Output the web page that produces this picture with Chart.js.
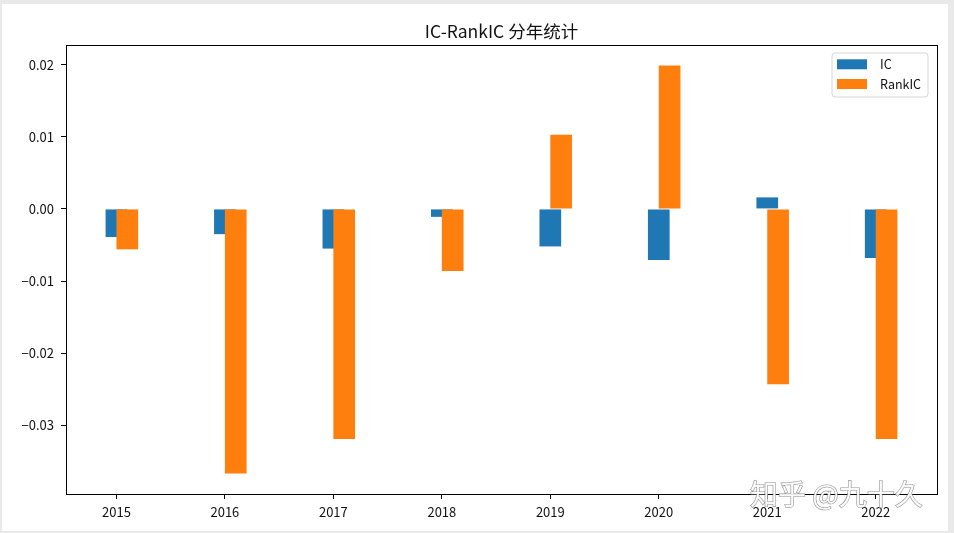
<!DOCTYPE html>
<html>
<head>
<meta charset="utf-8">
<script src="https://cdn.jsdelivr.net/npm/chart.js@4/dist/chart.umd.min.js"></script>
<style>
  html, body { margin: 0; padding: 0; background: #e9e9e9; }
  #frame { position: absolute; left: 2px; top: 4px; width: 946px; height: 527px; background: #fff; }
  #c { position: absolute; left: 0; top: 0; }
</style>
</head>
<body>
<div id="frame"></div>
<canvas id="c" width="954" height="533"></canvas>
<script>
// ---- data ----
const years = [2015, 2016, 2017, 2018, 2019, 2020, 2021, 2022];
const icValues = [-0.0039, -0.0035, -0.0055, -0.0011, -0.0052, -0.0071, 0.0016, -0.0068];
const rankIcValues = [-0.0056, -0.0367, -0.0319, -0.0086, 0.0103, 0.0199, -0.0243, -0.0319];
const yTickValues = [-0.03, -0.02, -0.01, 0.00, 0.01, 0.02];
const seriesNames = ['IC', 'RankIC'];
const titleText = 'IC-RankIC 分年统计';
const watermarkText = '知乎 @九十久';

// ---- layout / style ----
const barShift = 0.1;           // RankIC bars shifted right by half a bar width
const xMin = 2014.535, xMax = 2022.565;
const yMin = -0.03953, yMax = 0.02273;
const FONT = '"Noto Sans CJK SC", "DejaVu Sans", sans-serif';
const colors = ['#1f77b4', '#ff7f0e'];

const fmtY = v => {
  if (Math.abs(v) < 1e-9) return '0.00';
  const s = v.toFixed(2);
  return s.replace('-', '\u2212');
};

const framePlugin = {
  id: 'framePlugin',
  afterDatasetsDraw(chart) {
    const {ctx, chartArea: a} = chart;
    ctx.save();
    ctx.strokeStyle = '#000';
    ctx.lineWidth = 1;
    ctx.strokeRect(Math.round(a.left) + 0.5, Math.round(a.top) + 0.5,
                   Math.round(a.right - a.left), Math.round(a.bottom - a.top));
    ctx.restore();
  },
  afterDraw(chart) {
    const {ctx, chartArea: a} = chart;
    ctx.save();
    // title
    ctx.fillStyle = '#111';
    ctx.font = '17.5px ' + FONT;
    ctx.textAlign = 'center';
    ctx.textBaseline = 'middle';
    ctx.fillText(titleText, (a.left + a.right) / 2, 31);

    // legend
    const lx = 832, ly = 53, lw = 96, lh = 44, r = 3;
    ctx.beginPath();
    ctx.moveTo(lx + r, ly);
    ctx.arcTo(lx + lw, ly, lx + lw, ly + lh, r);
    ctx.arcTo(lx + lw, ly + lh, lx, ly + lh, r);
    ctx.arcTo(lx, ly + lh, lx, ly, r);
    ctx.arcTo(lx, ly, lx + lw, ly, r);
    ctx.closePath();
    ctx.fillStyle = 'rgba(255,255,255,0.85)';
    ctx.fill();
    ctx.strokeStyle = '#d6d6d6';
    ctx.lineWidth = 1;
    ctx.stroke();
    ctx.font = '12.5px ' + FONT;
    ctx.textAlign = 'left';
    ctx.textBaseline = 'middle';
    chart.data.datasets.forEach((ds, i) => {
      const cy = 64.3 + i * 19.7;
      ctx.fillStyle = ds.backgroundColor;
      ctx.fillRect(837, cy - 5, 30, 10);
      ctx.fillStyle = '#111';
      ctx.fillText(ds.label, 880, cy);
    });

    // watermark
    ctx.font = '28px ' + FONT;
    ctx.textAlign = 'left';
    ctx.textBaseline = 'alphabetic';
    ctx.lineWidth = 1.2;
    ctx.strokeStyle = 'rgba(110,110,110,0.75)';
    ctx.fillStyle = 'rgba(255,255,255,0.9)';
    ctx.strokeText(watermarkText, 750, 505);
    ctx.fillText(watermarkText, 750, 505);
    ctx.restore();
  }
};

const tickFont = { family: FONT, size: 13 };

new Chart(document.getElementById('c'), {
  type: 'bar',
  data: {
    datasets: [
      {
        label: seriesNames[0],
        data: years.map((yr, i) => ({ x: yr, y: icValues[i] })),
        backgroundColor: colors[0],
        xAxisID: 'x',
        yAxisID: 'y',
        grouped: false,
        order: 2
      },
      {
        label: seriesNames[1],
        data: years.map((yr, i) => ({ x: yr, y: rankIcValues[i] })),
        backgroundColor: colors[1],
        xAxisID: 'x2',
        yAxisID: 'y',
        grouped: false,
        order: 1
      }
    ]
  },
  options: {
    responsive: false,
    animation: false,
    layout: { padding: { left: 0, top: 45, right: 17, bottom: 0 } },
    datasets: { bar: { categoryPercentage: 1, barPercentage: 0.2, borderWidth: 0, grouped: false } },
    plugins: { legend: { display: false }, title: { display: false }, tooltip: { enabled: false } },
    scales: {
      x: {
        type: 'linear',
        position: 'bottom',
        offset: false,
        min: xMin, max: xMax,
        afterBuildTicks: s => { s.ticks = years.map(v => ({ value: v })); },
        afterFit: s => { s.height = 39; },
        ticks: { callback: v => String(v), font: tickFont, color: '#111', padding: 5, maxRotation: 0, autoSkip: false },
        grid: { display: true, offset: false, drawOnChartArea: false, drawTicks: true, tickLength: 5, color: '#000', lineWidth: 1 },
        border: { display: false }
      },
      x2: {
        type: 'linear',
        position: 'bottom',
        display: false,
        offset: false,
        min: xMin - barShift, max: xMax - barShift,
        afterBuildTicks: s => { s.ticks = years.map(v => ({ value: v })); },
        grid: { offset: false }
      },
      y: {
        type: 'linear',
        min: yMin, max: yMax,
        afterBuildTicks: s => { s.ticks = yTickValues.map(v => ({ value: v })); },
        afterFit: s => { s.width = 66; },
        ticks: { callback: v => fmtY(v), font: tickFont, color: '#111', padding: 7 },
        grid: { display: true, drawOnChartArea: false, drawTicks: true, tickLength: 5, color: '#000', lineWidth: 1 },
        border: { display: false }
      }
    }
  },
  plugins: [framePlugin]
});
</script>
</body>
</html>
